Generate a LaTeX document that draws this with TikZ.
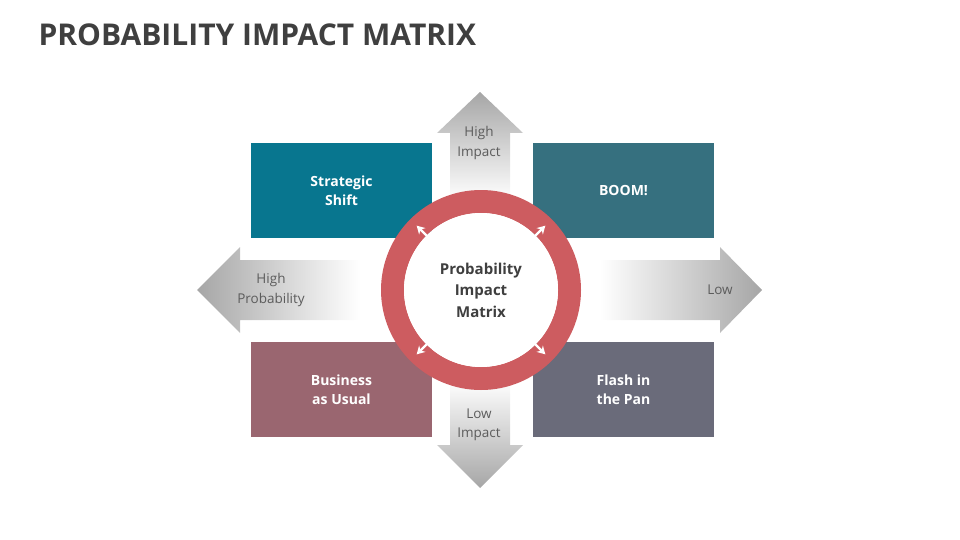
\documentclass[tikz,border=0pt]{standalone}
\usepackage{fontspec}
\setmainfont{Open Sans}
\usetikzlibrary{arrows.meta, calc}
\definecolor{shiftc}{HTML}{08768F}
\definecolor{boomc}{HTML}{36707F}
\definecolor{usualc}{HTML}{9A6670}
\definecolor{flashc}{HTML}{6A6B7A}
\definecolor{ringc}{HTML}{CD5C60}
\definecolor{titlec}{HTML}{3F3F3F}
\definecolor{arrowc}{HTML}{A6A6A6}
\tikzset{
  quad/.style={rectangle, minimum width=181pt, minimum height=95pt, text=white, align=center, font=\fontsize{14}{19.5}\selectfont\bfseries},
  axislabel/.style={align=center, text=titlec!85, font=\fontsize{13.5}{19.5}\selectfont},
  tiparrow/.style={white, line width=2.2pt, -{Stealth[length=8pt,width=9pt]}}
}
\begin{document}
\begin{tikzpicture}[x=1pt, y=-1pt]
\useasboundingbox (0,0) rectangle (960,540);

\node (title) [anchor=west, text=titlec, font=\fontsize{30}{36}\selectfont\bfseries] at (35,35) {PROBABILITY IMPACT MATRIX};

% axis arrows
\path [top color=arrowc, bottom color=white] (450,200) -- (450,133) -- (437,133) -- (480,92) -- (523,133) -- (510,133) -- (510,200) -- cycle;
\path [bottom color=arrowc, top color=white] (450,380) -- (450,445) -- (437,445) -- (480,488) -- (523,445) -- (510,445) -- (510,380) -- cycle;
\path [left color=arrowc, right color=white] (360,260) -- (240,260) -- (240,247) -- (197,290) -- (240,333) -- (240,320) -- (360,320) -- cycle;
\path [right color=arrowc, left color=white] (600,260) -- (720,260) -- (720,247) -- (762,290) -- (720,333) -- (720,320) -- (600,320) -- cycle;

% quadrants
\node (shift) [quad, fill=shiftc] at (341.5,190.5) {Strategic\\Shift};
\node (boom) [quad, fill=boomc] at (623.5,190.5) {BOOM!};
\node (usual) [quad, fill=usualc] at (341.5,389.5) {Business\\as Usual};
\node (flash) [quad, fill=flashc] at (623.5,389.5) {Flash in\\the Pan};

% axis labels
\node (hi) [axislabel] at (479,143) {High\\Impact};
\node (li) [axislabel] at (479,425) {Low\\Impact};
\node (hp) [axislabel] at (271,290) {High\\Probability};
\node (lp) [axislabel] at (720,290) {Low};

% centre ring
\coordinate (c) at (481,290);
\fill [ringc, even odd rule] (c) circle (100) (c) circle (77);
\fill [white] (c) circle (77);
\node (centre) [align=center, text=titlec, font=\fontsize{15}{21.5}\selectfont\bfseries] at (c) {Probability\\Impact\\Matrix};
\foreach \a in {45,135,225,315}
  \draw [tiparrow] ($(c)+(\a:70)$) -- ($(c)+(\a:91)$);

\end{tikzpicture}
\end{document}
